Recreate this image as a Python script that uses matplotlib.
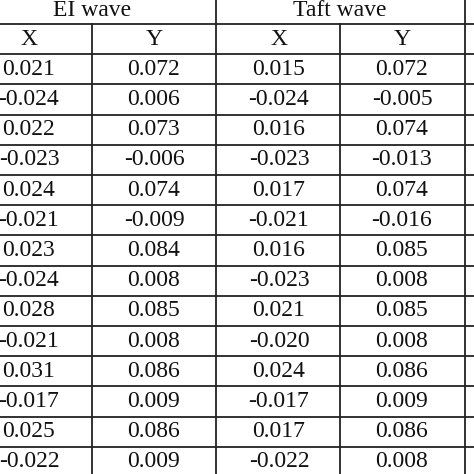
import matplotlib
matplotlib.use("Agg")
import matplotlib.pyplot as plt

groups = ["EI wave", "Taft wave"]
subcols = ["X", "Y", "X", "Y"]
ei_x = ["0.021", "-0.024", "0.022", "-0.023", "0.024", "-0.021", "0.023", "-0.024", "0.028", "-0.021", "0.031", "-0.017", "0.025", "-0.022"]
ei_y = ["0.072", "0.006", "0.073", "-0.006", "0.074", "-0.009", "0.084", "0.008", "0.085", "0.008", "0.086", "0.009", "0.086", "0.009"]
taft_x = ["0.015", "-0.024", "0.016", "-0.023", "0.017", "-0.021", "0.016", "-0.023", "0.021", "-0.020", "0.024", "-0.017", "0.017", "-0.022"]
taft_y = ["0.072", "-0.005", "0.074", "-0.013", "0.074", "-0.016", "0.085", "0.008", "0.085", "0.008", "0.086", "0.009", "0.086", "0.008"]

W = H = 474
fig = plt.figure(figsize=(4.74, 4.74), dpi=100)
ax = fig.add_axes([0, 0, 1, 1])
ax.set_xlim(0, W)
ax.set_ylim(H, 0)
ax.axis("off")

font = dict(family=["Liberation Serif", "DejaVu Serif"], fontsize=17, color="#111111")
col_centers = [29, 154, 279, 402]
top = 24
pitch = 30.2
nrows = 1 + len(ei_x)
lw = 1.3
lc = "#222222"

for k in range(nrows + 1):
    ax.plot([0, W], [top + k * pitch] * 2, color=lc, lw=lw)
for x in (216, 465):
    ax.plot([x, x], [0, H], color=lc, lw=lw)
for x in (92, 340):
    ax.plot([x, x], [top, H], color=lc, lw=lw)

ax.text(92, 10, groups[0], ha="center", va="center", **font)
ax.text(340, 10, groups[1], ha="center", va="center", **font)
for c, s in zip(col_centers, subcols):
    ax.text(c, top + pitch / 2, s, ha="center", va="center", **font)
for r in range(len(ei_x)):
    yc = top + (r + 1.5) * pitch
    for c, col in zip(col_centers, [ei_x, ei_y, taft_x, taft_y]):
        ax.text(c, yc, col[r], ha="center", va="center", **font)

fig.savefig("out.png", dpi=100, facecolor="white")
